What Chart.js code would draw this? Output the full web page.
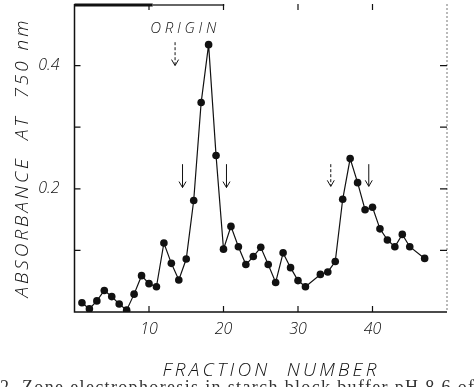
<!DOCTYPE html>
<html>
<head>
<meta charset="utf-8">
<script src="https://cdn.jsdelivr.net/npm/chart.js@4"></script>
<style>
  html, body { margin: 0; padding: 0; background: #fff; }
  canvas { display: block; }
</style>
</head>
<body>
<canvas id="chart" width="474" height="387"></canvas>
<script>
// fraction number -> absorbance at 750 nm (fractions 32 and 46 not plotted)
const fractions = [1, 2, 3, 4, 5, 6, 7, 8, 9, 10, 11, 12, 13, 14, 15, 16, 17, 18, 19, 20,
    21, 22, 23, 24, 25, 26, 27, 28, 29, 30, 31, 33, 34, 35, 36, 37, 38, 39, 40,
    41, 42, 43, 44, 45, 47];
const absorbance = [0.015, 0.005, 0.018, 0.035, 0.025, 0.013, 0.003, 0.029, 0.059, 0.046,
    0.041, 0.112, 0.079, 0.052, 0.086, 0.181, 0.340, 0.434, 0.254, 0.102,
    0.139, 0.106, 0.077, 0.090, 0.105, 0.077, 0.048, 0.096, 0.072, 0.051,
    0.041, 0.061, 0.065, 0.082, 0.183, 0.249, 0.210, 0.166, 0.170,
    0.135, 0.117, 0.106, 0.126, 0.106, 0.087];

const xTicks = [10, 20, 30, 40];
const yTicks = [0.1, 0.2, 0.3, 0.4];
const yLabels = [0.2, 0.4];

// arrows: fraction, top value, bottom value, dashed?
const arrowX = [13.5, 14.5, 20.4, 34.4, 39.5];
const arrowTop = [0.438, 0.240, 0.240, 0.240, 0.240];
const arrowBottom = [0.400, 0.202, 0.202, 0.204, 0.204];
const arrowDashed = [true, false, false, true, false];

const originLabel = 'ORIGIN';
const xTitle = 'FRACTION  NUMBER';
const yTitle = 'ABSORBANCE  AT  750 nm';
const caption = '2. Zone electrophoresis in starch block buffer pH 8.6 of';

const FONT = '"Open Sans", "DejaVu Sans", sans-serif';

function spacedText(ctx, text, x, y, targetWidth) {
    ctx.letterSpacing = '0px';
    const w0 = ctx.measureText(text).width;
    const sp = (targetWidth - w0) / (text.length - 1);
    ctx.letterSpacing = sp + 'px';
    ctx.textAlign = 'left';
    ctx.fillText(text, x - targetWidth / 2, y);
    ctx.letterSpacing = '0px';
}

function noPad(s) {
    s.paddingTop = 0;
    s.paddingBottom = 0;
    s.paddingLeft = 0;
    s.paddingRight = 0;
}

const decor = {
    id: 'decor',
    afterDraw(chart) {
        const ctx = chart.ctx;
        const xs = chart.scales.x;
        const ys = chart.scales.y;
        const area = chart.chartArea;
        ctx.save();
        ctx.strokeStyle = '#111';
        ctx.fillStyle = '#111';

        // left + bottom axes
        ctx.lineWidth = 1.5;
        ctx.beginPath();
        ctx.moveTo(area.left, area.top);
        ctx.lineTo(area.left, area.bottom);
        ctx.lineTo(area.right, area.bottom);
        ctx.stroke();

        // right axis, faint dotted
        ctx.strokeStyle = '#777';
        ctx.lineWidth = 1;
        ctx.setLineDash([2, 2]);
        ctx.beginPath();
        ctx.moveTo(area.right, area.top);
        ctx.lineTo(area.right, area.bottom);
        ctx.stroke();
        ctx.setLineDash([]);

        // top edge (partly visible in scan)
        ctx.strokeStyle = '#111';
        ctx.lineWidth = 3;
        ctx.beginPath();
        ctx.moveTo(area.left, area.top + 1);
        ctx.lineTo(xs.getPixelForValue(10.5), area.top + 1);
        ctx.stroke();
        ctx.strokeStyle = '#666';
        ctx.lineWidth = 2;
        ctx.beginPath();
        ctx.moveTo(xs.getPixelForValue(10.5), area.top + 1);
        ctx.lineTo(xs.getPixelForValue(20.1), area.top + 1);
        ctx.stroke();

        // inward ticks
        ctx.strokeStyle = '#111';
        ctx.lineWidth = 1.2;
        ctx.beginPath();
        yTicks.forEach(v => {
            const y = ys.getPixelForValue(v);
            ctx.moveTo(area.left, y);
            ctx.lineTo(area.left + 6, y);
            ctx.moveTo(area.right, y);
            ctx.lineTo(area.right - 7, y);
        });
        xTicks.forEach(v => {
            const x = xs.getPixelForValue(v);
            ctx.moveTo(x, area.bottom);
            ctx.lineTo(x, area.bottom - 6);
            ctx.moveTo(x, area.top);
            ctx.lineTo(x, area.top + 6);
        });
        ctx.stroke();

        // arrows
        arrowX.forEach((fx, i) => {
            const x = xs.getPixelForValue(fx);
            const y1 = ys.getPixelForValue(arrowTop[i]);
            const y2 = ys.getPixelForValue(arrowBottom[i]);
            ctx.lineWidth = 1;
            ctx.setLineDash(arrowDashed[i] ? [3, 2] : []);
            ctx.beginPath();
            ctx.moveTo(x, y1);
            ctx.lineTo(x, y2);
            ctx.stroke();
            ctx.setLineDash([]);
            ctx.beginPath();
            ctx.moveTo(x - 3.5, y2 - 6);
            ctx.lineTo(x, y2);
            ctx.lineTo(x + 3.5, y2 - 6);
            ctx.stroke();
        });

        // ORIGIN label
        ctx.font = 'italic 300 15px ' + FONT;
        ctx.textBaseline = 'middle';
        spacedText(ctx, originLabel, xs.getPixelForValue(14.6), 29, 66);

        // axis titles
        ctx.font = 'italic 300 19px ' + FONT;
        spacedText(ctx, xTitle, 269.5, 371, 214);
        ctx.save();
        ctx.translate(23, 159);
        ctx.rotate(-Math.PI / 2);
        spacedText(ctx, yTitle, 0, 0, 277);
        ctx.restore();

        // cut-off caption line
        ctx.font = '18px "Liberation Serif", serif';
        ctx.textBaseline = 'alphabetic';
        ctx.fillStyle = '#333';
        spacedText(ctx, caption, 237, 393, 474);

        ctx.restore();
    }
};

new Chart(document.getElementById('chart'), {
    type: 'line',
    data: {
        datasets: [{
            data: fractions.map((f, i) => ({ x: f, y: absorbance[i] })),
            borderColor: '#111',
            backgroundColor: '#111',
            borderWidth: 1.2,
            pointRadius: 3.8,
            pointBorderWidth: 0,
            tension: 0,
            fill: false
        }]
    },
    options: {
        responsive: false,
        animation: false,
        devicePixelRatio: 1,
        layout: { padding: { top: 0, right: 27, left: 0, bottom: 0 } },
        plugins: { legend: { display: false }, tooltip: { enabled: false } },
        scales: {
            x: {
                type: 'linear',
                min: 0,
                max: 50,
                grid: { display: false },
                border: { display: false },
                afterFit: s => { s.height = 75; noPad(s); },
                ticks: {
                    stepSize: 10,
                    padding: 0,
                    color: '#111',
                    font: { family: FONT, size: 16, style: 'italic', weight: 300 },
                    callback: v => xTicks.includes(v) ? String(v) : ''
                }
            },
            y: {
                min: 0,
                max: 0.5,
                grid: { display: false },
                border: { display: false },
                afterFit: s => { s.width = 74.5; noPad(s); },
                ticks: {
                    stepSize: 0.1,
                    padding: 7,
                    color: '#111',
                    font: { family: FONT, size: 16, style: 'italic', weight: 300 },
                    callback: v => yLabels.some(t => Math.abs(t - v) < 1e-6) ? v.toFixed(1) : ''
                }
            }
        }
    },
    plugins: [decor]
});
</script>
</body>
</html>
